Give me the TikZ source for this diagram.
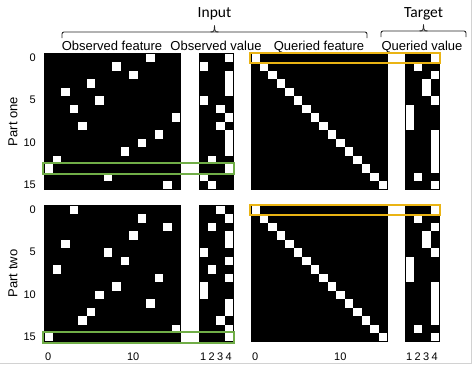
\documentclass[tikz,border=0pt]{standalone}
\usepackage{fontspec}
\setmainfont{Liberation Sans}
\newfontfamily\calfont{Carlito}
\definecolor{hlgreen}{RGB}{112,173,71}
\definecolor{hlgold}{RGB}{234,180,20}
\newcommand\drawmatrix[4]{%
  \fill[black] (#1,#2) rectangle ++({#3*8.5},136);
  \foreach \r/\k in {#4} \fill[white] ({#1+\k*8.5},{#2+\r*8.5}) rectangle ++(8.5,8.5);
  \draw[matframe] (#1,#2) rectangle ++({#3*8.5},136);}
\begin{document}
\begin{tikzpicture}[x=1pt,y=-1pt,
  matframe/.style={draw=black,line width=0.7pt},
  lab/.style={font=\fontsize{13}{15}\selectfont, inner sep=0pt},
  tick/.style={font=\fontsize{11}{13}\selectfont, inner sep=0pt},
  head/.style={font=\calfont\fontsize{15.5}{18}\selectfont, inner sep=0pt},
  hlg/.style={draw=hlgreen,line width=2pt},
  hly/.style={draw=hlgold,line width=2pt},
  bracepath/.style={line width=0.9pt, draw=black!85},
  frameline/.style={draw=gray!35, line width=1pt}]
\useasboundingbox (0,0) rectangle (474,367);
% screenshot border
\draw[frameline] (471,0) -- (471,363) -- (0,363);
% headers and braces
\node[head,anchor=base] (input) at (214.5,17.3) {Input};
\node[head,anchor=base] (target) at (423.5,17.3) {Target};
\draw[bracepath, rounded corners=2pt] (62,38) -- (62,32) -- (367,32) -- (367,38);
\draw[bracepath] (210.5,32) .. controls (214,32) and (214.5,31) .. (214.5,25.5);
\draw[bracepath] (218.5,32) .. controls (215,32) and (214.5,31) .. (214.5,25.5);
\draw[bracepath, rounded corners=2pt] (381,37) -- (381,31) -- (466,31) -- (466,37);
\draw[bracepath] (419.5,31) .. controls (423,31) and (423.5,30) .. (423.5,24.5);
\draw[bracepath] (427.5,31) .. controls (424,31) and (423.5,30) .. (423.5,24.5);
% column titles
\node[lab,anchor=base] (tof) at (112,50) {Observed feature};
\node[lab,anchor=base] (tov) at (216,50) {Observed value};
\node[lab,anchor=base] (tqf) at (319,50) {Queried feature};
\node[lab,anchor=base] (tqv) at (422,50) {Queried value};
% part one
\drawmatrix{44}{53.5}{16}{0/12,1/8,2/10,3/5,4/2,5/6,6/3,7/15,8/4,9/13,10/11,11/9,12/1,13/0,14/7,15/14}
\drawmatrix{199}{53.5}{4}{0/3,1/0,2/3,3/3,4/3,5/0,6/2,7/3,8/2,9/3,10/3,11/3,12/1,13/3,14/0,15/1}
\drawmatrix{251}{53.5}{16}{0/0,1/1,2/2,3/3,4/4,5/5,6/6,7/7,8/8,9/9,10/10,11/11,12/12,13/13,14/14,15/15}
\drawmatrix{405}{53.5}{4}{0/3,1/1,2/3,3/2,4/2,5/3,6/0,7/0,8/0,9/3,10/3,11/3,12/3,13/3,14/1,15/3}
% part two
\drawmatrix{44}{205.5}{16}{0/3,1/11,2/14,3/10,4/2,5/7,6/9,7/1,8/13,9/8,10/6,11/12,12/5,13/4,14/15,15/0}
\drawmatrix{199}{205.5}{4}{0/2,1/3,2/1,3/3,4/3,5/0,6/3,7/1,8/3,9/0,10/0,11/3,12/3,13/2,14/3,15/3}
\drawmatrix{251}{205.5}{16}{0/0,1/1,2/2,3/3,4/4,5/5,6/6,7/7,8/8,9/9,10/10,11/11,12/12,13/13,14/14,15/15}
\drawmatrix{405}{205.5}{4}{0/3,1/1,2/3,3/2,4/2,5/3,6/0,7/0,8/0,9/3,10/3,11/3,12/3,13/3,14/1,15/3}
% highlight boxes
\draw[hlg] (43,163) rectangle (234,174);
\draw[hly] (250,53) rectangle (440,63);
\draw[hlg] (43,332) rectangle (234,343);
\draw[hly] (250,205) rectangle (440,215);
% row tick labels
\foreach \v in {0,5,10,15} {
  \node[tick,anchor=east] (ya\v) at (36,{53.5+\v*8.5+4.25}) {\v};
  \node[tick,anchor=east] (yb\v) at (36,{205.5+\v*8.5+4.25}) {\v};
}
% part labels
\node[lab,rotate=90] (p1) at (13,121.5) {Part one};
\node[lab,rotate=90] (p2) at (13,273.5) {Part two};
% bottom tick labels
\node[tick,anchor=north] (xa0) at (48.25,352.5) {0};
\node[tick,anchor=north] (xa10) at (133.25,352.5) {10};
\node[tick,anchor=north] (xb0) at (255.25,352.5) {0};
\node[tick,anchor=north] (xb10) at (340.25,352.5) {10};
\foreach \d in {1,2,3,4} {
  \node[tick,anchor=north] (va\d) at ({199+(\d-0.5)*8.5},352.5) {\d};
  \node[tick,anchor=north] (vb\d) at ({405+(\d-0.5)*8.5},352.5) {\d};
}
\end{tikzpicture}
\end{document}
